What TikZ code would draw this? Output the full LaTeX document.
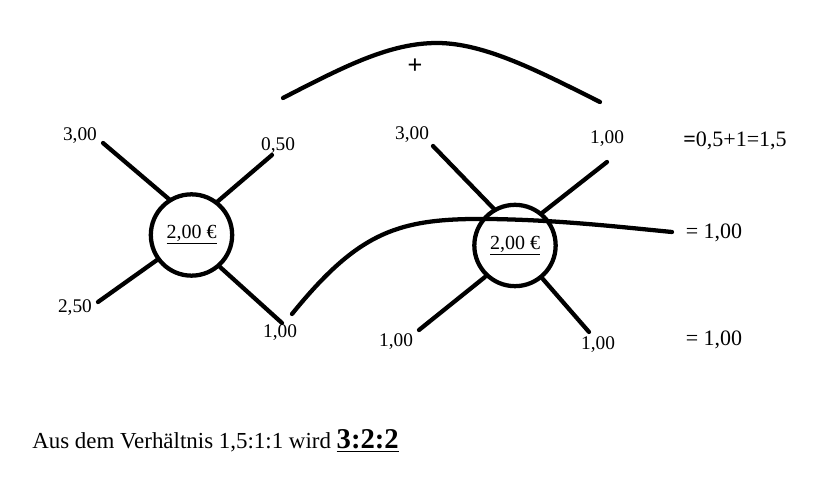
\documentclass[tikz,border=0pt]{standalone}
\usepackage{fontspec}
\setmainfont{Liberation Serif}
\newfontfamily\plusfont{Liberation Sans}
\begin{document}
\begin{tikzpicture}[x=0.75pt,y=-0.75pt,
  thick line/.style={line width=3.2pt,line cap=round},
  coin/.style={circle,draw,line width=3.2pt,minimum size=61pt,inner sep=0pt},
  lab/.style={inner sep=0pt,font=\fontsize{14.5}{16}\selectfont},
  eqtext/.style={inner sep=0pt,font=\fontsize{16.5}{18}\selectfont}]
\useasboundingbox (0,0) rectangle (819,477);
% circles
\node[coin] (c1) at (191.5,235) {\fontsize{15}{16}\selectfont\underline{2,00 €}};
\node[coin] (c2) at (515,245.5) {\fontsize{15}{16}\selectfont\underline{2,00 €}};
% spoke ends
\coordinate (a1) at (103,143); \coordinate (a1i) at (170,200);
\coordinate (b1) at (272,155); \coordinate (b1i) at (217,202);
\coordinate (d1) at (98,302);  \coordinate (d1i) at (157,260);
\coordinate (e1) at (282,323); \coordinate (e1i) at (220,267);
\coordinate (a2) at (433,146); \coordinate (a2i) at (495,210);
\coordinate (b2) at (607,162); \coordinate (b2i) at (542,213);
\coordinate (d2) at (419,330); \coordinate (d2i) at (485,277);
\coordinate (e2) at (589,332); \coordinate (e2i) at (542,278);
\foreach \p in {a1,b1,d1,e1,a2,b2,d2,e2}{\draw[thick line] (\p) -- (\p i);}
% labels
\node[lab] (l1) at (80,136) {3,00};
\node[lab] (l2) at (278,146) {0,50};
\node[lab] (l3) at (75,308) {2,50};
\node[lab] (l4) at (280,333) {1,00};
\node[lab] (l5) at (412,135) {3,00};
\node[lab] (l6) at (607,139) {1,00};
\node[lab] (l7) at (396,342) {1,00};
\node[lab] (l8) at (598,345) {1,00};
% top arc
\coordinate (t0) at (283,98); \coordinate (tm) at (437,43); \coordinate (t1) at (600,102);
\draw[thick line] (t0) .. controls (345,66) and (390,43) .. (tm) .. controls (485,43) and (540,72) .. (t1);
\node[inner sep=0pt,font=\plusfont\fontsize{19}{20}\selectfont] (plus) at (415,66) {+};
% cross curve
\coordinate (s0) at (292,314); \coordinate (sm) at (490,219); \coordinate (s1) at (672,232);
\draw[thick line] (s0) .. controls (360,230) and (400,218) .. (sm) .. controls (560,220) and (620,227) .. (s1);
% right texts
\node[eqtext] (r1) at (735,141) {\textbf{=}0,5+1=1,5};
\node[eqtext] (r2) at (714,233) {= 1,00};
\node[eqtext] (r3) at (714,340) {= 1,00};
% bottom
\node[inner sep=0pt,anchor=base west,font=\fontsize{17.2}{20}\selectfont] (bt) at (32,449) {Aus dem Verhältnis 1,5:1:1 wird {\fontsize{21.5}{24}\selectfont\bfseries\underline{3:2:2}}};
\end{tikzpicture}
\end{document}
